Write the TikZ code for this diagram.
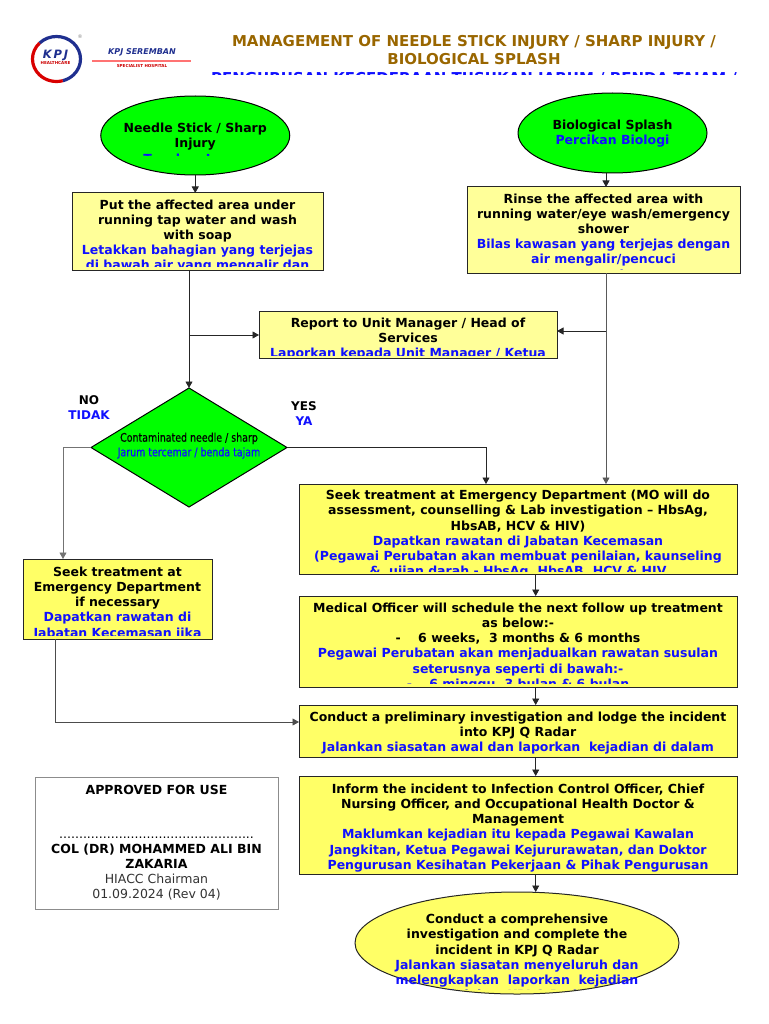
\documentclass[tikz,border=0pt]{standalone}
\usepackage{fontspec}
\usepackage{xcolor}
\setmainfont{DejaVu Sans}
\newfontfamily\narrowfont[FakeStretch=0.8,FakeBold=0.4]{DejaVu Sans}
\usetikzlibrary{arrows.meta,positioning,shapes.geometric,calc}

\definecolor{softyellow}{HTML}{FFFF99}
\definecolor{fullyellow}{HTML}{FFFF66}
\definecolor{msblue}{HTML}{1010FF}
\definecolor{titlebrown}{HTML}{996600}
\definecolor{kpjnavy}{HTML}{1F2F8F}
\newcommand{\malay}[1]{\textcolor{msblue}{#1}}

% #1 box, #2 drop below its top, #3 cut above its bottom, #4 lines
\newcommand{\boxlines}[4]{%
  \begin{scope}
    \clip ([yshift=#3pt]#1.south -| 0,0) rectangle (768,0 |- #1.north);
    \node[boxtext, below=#2pt of #1.north] (#1text) {#4};
  \end{scope}}

\begin{document}
\begin{tikzpicture}[
  x=1pt, y=1pt,
  softbox/.style={draw=black!85, fill=softyellow, line width=1pt, outer sep=0pt, inner sep=0pt},
  fullbox/.style={draw=black!85, fill=fullyellow, line width=1pt, outer sep=0pt, inner sep=0pt},
  startoval/.style={draw=black, fill=green, ellipse, line width=1pt, outer sep=0pt, inner sep=0pt, minimum width=189pt, minimum height=79pt},
  boxtext/.style={align=center, inner sep=0pt, font=\fontsize{12.5}{15.2}\selectfont\bfseries},
  arrow/.style={-{Triangle[length=6.5pt,width=7pt]}, draw=black!85, line width=0.9pt},
]
  \useasboundingbox (0,0) rectangle (768,-1024);

  % Logo
  \coordinate (ringmid) at (56.5,-59);
  \draw[draw=kpjnavy, line width=3.2pt] ($(ringmid)+(135:24pt and 22.5pt)$) arc[start angle=135, end angle=-75, x radius=24pt, y radius=22.5pt];
  \draw[draw=red!85!black, line width=3.2pt] ($(ringmid)+(135:24pt and 22.5pt)$) arc[start angle=135, end angle=285, x radius=24pt, y radius=22.5pt];
  \node[text=kpjnavy, font=\fontsize{11.5}{12}\selectfont\bfseries\itshape, inner sep=0pt] (kpjmark) at (55.5,-55.5) {K\,P\,J};
  \node[text=red!80!black, font=\fontsize{4.1}{4.5}\selectfont\bfseries, inner sep=0pt] (kpjcare) at (55.5,-63) {HEALTHCARE};
  \node[text=black!50, font=\fontsize{5}{5}\selectfont, inner sep=0pt] (kpjreg) at (80,-37) {®};
  \node[text=kpjnavy, font=\fontsize{8}{8}\selectfont\bfseries\itshape, inner sep=0pt] (kpjsite) at (142,-52) {KPJ SEREMBAN};
  \coordinate (ruleleft) at (92,-61);
  \coordinate (ruleright) at (191,-61);
  \draw[draw=red!55, line width=1.2pt] (ruleleft) -- (ruleright);
  \node[text=red!80!black, font=\fontsize{4.1}{4.5}\selectfont\bfseries, inner sep=0pt] (kpjkind) at (142,-66) {SPECIALIST HOSPITAL};

  % Title
  \begin{scope}
    \clip (200,-20) rectangle (750,-75);
    \node[align=center, inner sep=0pt, font=\fontsize{15}{18.6}\selectfont\bfseries, text=titlebrown, below] (title) at (474,-35)
      {MANAGEMENT OF NEEDLE STICK INJURY / SHARP INJURY /\\ BIOLOGICAL SPLASH\\ \malay{PENGURUSAN KECEDERAAN TUSUKAN JARUM / BENDA TAJAM /}};
  \end{scope}

  % Starting points
  \node[startoval] (needle) at (195.25,-135.5) {};
  \boxlines{needle}{27}{19.5}{Needle Stick / Sharp\\ Injury\\ \malay{Tusukan Jarum}}
  \node[startoval, minimum height=80pt] (bio) at (612.5,-133) {};
  \boxlines{bio}{27}{0}{Biological Splash\\ \malay{Percikan Biologi}}

  % First aid
  \node[softbox, minimum width=251pt, minimum height=77pt] (put) at (197.5,-231.5) {};
  \boxlines{put}{6.5}{3.5}{Put the affected area under\\ running tap water and wash\\ with soap\\ \malay{Letakkan bahagian yang terjejas}\\ \malay{di bawah air yang mengalir dan}}
  \node[softbox, minimum width=273pt, minimum height=86pt] (rinse) at (603.5,-230) {};
  \boxlines{rinse}{6.5}{3.5}{Rinse the affected area with\\ running water/eye wash/emergency\\ shower\\ \malay{Bilas kawasan yang terjejas dengan}\\ \malay{air mengalir/pencuci}\\ \malay{mata/pancuran kecemasan}}
  \node[softbox, minimum width=298pt, minimum height=47pt] (report) at (408,-334.5) {};
  \boxlines{report}{6.5}{3}{Report to Unit Manager / Head of\\ Services\\ \malay{Laporkan kepada Unit Manager / Ketua}}

  % Decision
  \node[diamond, aspect=1.65, draw=black, fill=green, line width=1pt, outer sep=0pt, inner sep=0pt, minimum width=196pt, minimum height=119pt, align=center, font=\narrowfont\fontsize{11.8}{14.6}\selectfont] (needlecheck) at (189,-447.5)
    {Contaminated needle / sharp\\ \malay{Jarum tercemar / benda tajam}\rule[-6pt]{0pt}{6pt}};
  \node[boxtext, font=\fontsize{12}{15}\selectfont\bfseries] (nolabel) at (89,-407.5) {NO\\ \malay{TIDAK}};
  \node[boxtext, font=\fontsize{12}{15}\selectfont\bfseries] (yeslabel) at (304,-413.5) {YES\\ \malay{YA}};

  % Treatment
  \node[fullbox, minimum width=189pt, minimum height=80pt] (seekleft) at (117.5,-599) {};
  \boxlines{seekleft}{7.5}{3.5}{Seek treatment at\\ Emergency Department\\ if necessary\\ \malay{Dapatkan rawatan di}\\ \malay{Jabatan Kecemasan jika}}
  \node[fullbox, minimum width=438pt, minimum height=90pt] (seek) at (518,-529) {};
  \boxlines{seek}{6}{3}{Seek treatment at Emergency Department (MO will do\\ assessment, counselling \& Lab investigation – HbsAg,\\ HbsAB, HCV \& HIV)\\ \malay{Dapatkan rawatan di Jabatan Kecemasan}\\ \malay{(Pegawai Perubatan akan membuat penilaian, kaunseling}\\ \malay{\&\ \ ujian darah - HbsAg, HbsAB, HCV \& HIV}}
  \node[fullbox, minimum width=438pt, minimum height=91pt, below=22pt of seek] (followup) {};
  \boxlines{followup}{6.5}{3.5}{Medical Officer will schedule the next follow up treatment\\ as below:-\\ -\ \ \ \ 6 weeks,\ \ 3 months \& 6 months\\ \malay{Pegawai Perubatan akan menjadualkan rawatan susulan}\\ \malay{seterusnya seperti di bawah:-}\\ \malay{-\ \ \ \ 6 minggu, 3 bulan \& 6 bulan}}
  \node[fullbox, minimum width=438pt, minimum height=52pt, below=18pt of followup] (prelim) {};
  \boxlines{prelim}{6.5}{0}{Conduct a preliminary investigation and lodge the incident\\ into KPJ Q Radar\\ \malay{Jalankan siasatan awal dan laporkan\ \ kejadian di dalam}}
  \node[fullbox, minimum width=438pt, minimum height=98pt, below=19pt of prelim] (inform) {};
  \boxlines{inform}{7.5}{0}{Inform the incident to Infection Control Officer, Chief\\ Nursing Officer, and Occupational Health Doctor \&\\ Management\\ \malay{Maklumkan kejadian itu kepada Pegawai Kawalan}\\ \malay{Jangkitan, Ketua Pegawai Kejururawatan, dan Doktor}\\ \malay{Pengurusan Kesihatan Pekerjaan \& Pihak Pengurusan}}
  \node[fullbox, ellipse, minimum width=324pt, minimum height=102pt] (closing) at (517,-943) {};
  \boxlines{closing}{22}{5}{Conduct a comprehensive\\ investigation and complete the\\ incident in KPJ Q Radar\\ \malay{Jalankan siasatan menyeluruh dan}\\ \malay{melengkapkan\ \ laporkan\ \ kejadian}\\ \malay{di dalam KPJ Q Radar}}

  % Approval
  \node[draw=black!45, line width=0.9pt, outer sep=0pt, inner sep=0pt, minimum width=243pt, minimum height=132pt] (approval) at (156.5,-843) {};
  \node[boxtext, font=\fontsize{12.5}{15}\selectfont\bfseries, below=8pt of approval.north] (approvaltop) {APPROVED FOR USE};
  \node[boxtext, font=\fontsize{12.5}{15}\selectfont, below=60pt of approval.north] (approvalname)
    {.................................................\\ \textbf{COL (DR) MOHAMMED ALI BIN}\\ \textbf{ZAKARIA}\\ \textcolor{black!80}{HIACC Chairman}\\ \textcolor{black!80}{01.09.2024 (Rev 04)}};

  % Named line ends
  \coordinate (rinseline) at (606,0);
  \coordinate (spine) at (535.7,0);
  \coordinate (putfork) at (189,-335);
  \coordinate (rinsefork) at (606,-331);
  \coordinate (nodrop) at (63,-559);
  \coordinate (yesdrop) at (486,-484);
  \coordinate (seekout) at (55.7,-639);
  \coordinate (prelimin) at (299,-722);

  % Left branch
  \draw[arrow] (needle.south) -- (needle.south |- put.north);
  \draw[arrow] (put.south -| needlecheck.north) -- (needlecheck.north);
  \draw[arrow] (putfork) -- (report.west |- putfork);
  \draw[arrow, draw=black!55] (needlecheck.west) -| (nodrop);
  \draw[arrow, draw=black!70] (seekout) |- (prelimin);

  % Right branch
  \draw[arrow] (bio.south -| rinseline) -- (rinse.north -| rinseline);
  \draw[arrow, draw=black!65] (rinse.south -| rinseline) -- (seek.north -| rinseline);
  \draw[arrow] (rinsefork) -- (report.east |- rinsefork);
  \draw[arrow] (needlecheck.east) -| (yesdrop);

  % Down the column
  \draw[arrow] (seek.south -| spine) -- (followup.north -| spine);
  \draw[arrow] (followup.south -| spine) -- (prelim.north -| spine);
  \draw[arrow] (prelim.south -| spine) -- (inform.north -| spine);
  \draw[arrow] (inform.south -| spine) -- (closing.north -| spine);

\end{tikzpicture}
\end{document}
